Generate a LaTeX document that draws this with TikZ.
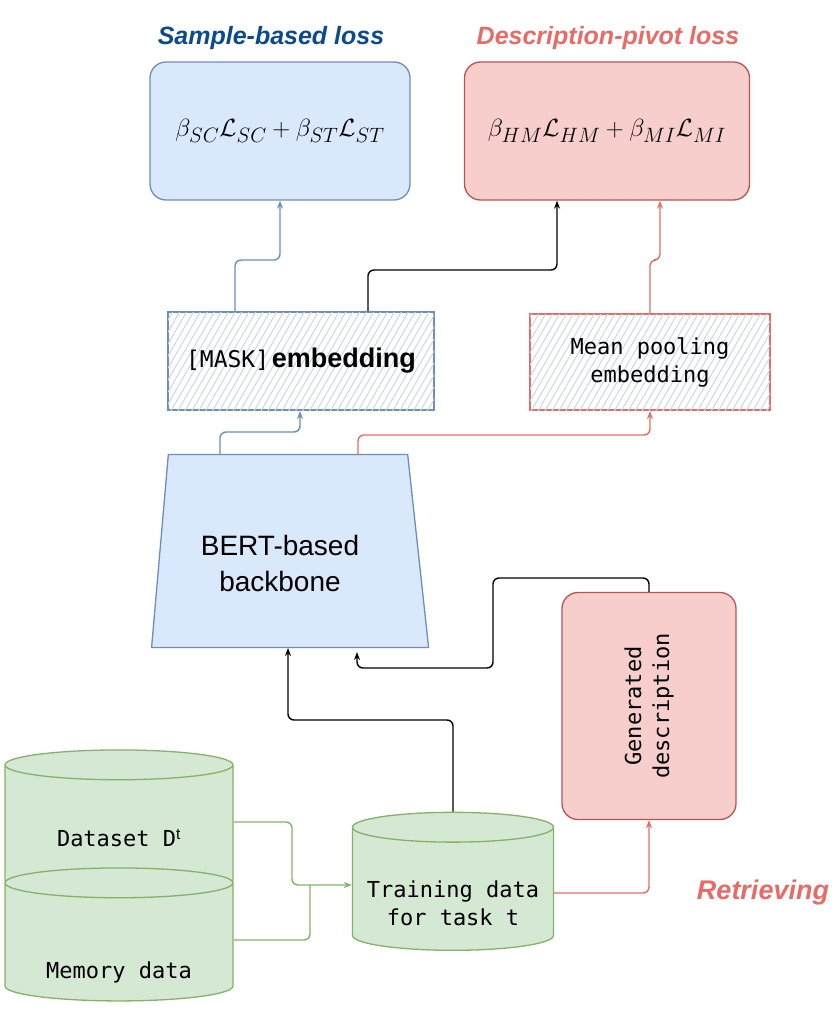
\documentclass[tikz,border=0pt]{standalone}
\usepackage{fontspec}
\setmainfont{Liberation Sans}
\newfontfamily\monof{DejaVu Sans Mono}
\usetikzlibrary{shapes.geometric,patterns.meta,arrows.meta}
\definecolor{bfill}{HTML}{DAE8FC}\definecolor{bline}{HTML}{6C8EBF}
\definecolor{rfill}{HTML}{F8CECC}\definecolor{rline}{HTML}{B85450}
\definecolor{gfill}{HTML}{D5E8D4}\definecolor{gline}{HTML}{82B366}
\definecolor{rtitle}{HTML}{EA6B66}\definecolor{btitle}{HTML}{0B4A8F}
\definecolor{redl}{HTML}{EA6B66}
\begin{document}
\begin{tikzpicture}[x=1pt,y=-1pt,
 tit/.style={font=\fontsize{25}{30}\selectfont\bfseries\itshape},
 bbox/.style={draw=bline,fill=bfill,rounded corners=16pt,line width=1.3pt},
 rbox/.style={draw=rline,fill=rfill,rounded corners=16pt,line width=1.3pt},
 hatch/.style={line width=2pt,fill=white,postaction={pattern={Lines[angle=60,distance=6pt,line width=1pt]},pattern color=bline!35}},
 cyl/.style={cylinder,shape border rotate=90,aspect=0.3,draw=gline,fill=gfill,line width=1.3pt,font=\monof\fontsize{22}{28}\selectfont},
 arr/.style={-{Stealth[length=8pt,width=6pt]},rounded corners=6pt,line width=1.4pt},
 mono/.style={font=\monof\fontsize{22}{28}\selectfont,align=center}]
\useasboundingbox (0,0) rectangle (835,1019);
\node[tit,text=btitle] (t1) at (271,38) {Sample-based loss};
\node[tit,text=rtitle] (t2) at (608,38) {Description-pivot loss};
\node[bbox,minimum width=260,minimum height=138] (L1) at (280,131) {\fontsize{29}{34}\selectfont$\beta_{SC}\mathcal{L}_{SC}+\beta_{ST}\mathcal{L}_{ST}$};
\node[rbox,minimum width=285,minimum height=138] (L2) at (607,131) {\fontsize{29}{34}\selectfont$\beta_{HM}\mathcal{L}_{HM}+\beta_{MI}\mathcal{L}_{MI}$};
\node[hatch,draw=bline,minimum width=266,minimum height=98] (M) at (301,361) {{\monof\fontsize{23}{28}\selectfont[MASK]} \fontsize{27}{32}\selectfont\bfseries embedding};
\node[hatch,draw=redl,minimum width=240,minimum height=96,mono] (P) at (650,362) {Mean pooling\\embedding};
\node[trapezium,trapezium stretches=true,trapezium left angle=86,trapezium right angle=85,draw=bline,fill=bfill,line width=1.3pt,minimum width=277,minimum height=193] (B) at (288,551) {};
\node[font=\fontsize{28}{36}\selectfont,align=center] (Bt) at (280,563) {BERT-based\\backbone};
\node[rbox,minimum width=174,minimum height=227] (G) at (649,706) {};
\node[mono,rotate=90] (Gt) at (G) {Generated\\description};
\node[cyl,minimum width=228,minimum height=145] (D) at (119,832) {\phantom{Dataset}};
\node[mono] (Dt) at (119,838) {Dataset D$^{\mathrm{t}}$};
\node[cyl,minimum width=228,minimum height=133] (Me) at (119,944) {\phantom{Dataset}};
\node[mono] (Mt) at (119,972) {Memory data};
\node[cyl,minimum width=201,minimum height=138] (T) at (453,891) {\phantom{Dataset}};
\node[mono] (Tt) at (453,903) {Training data\\for task t};
\node[tit,text=redl,font=\fontsize{27}{32}\selectfont\bfseries\itshape] (R) at (763,893) {Retrieving};
% connectors
\draw[arr,draw=bline] (M.north -| 235,0) |- (280,260) -- (L1.south);
\draw[arr] (M.north -| 368,0) |- (557,270) -- (L2.south -| 557,0);
\draw[arr,draw=redl] (P.north) |- (660,260) -- (L2.south -| 660,0);
\draw[arr,draw=bline] (220,455) |- (300,432) -- (M.south -| 300,0);
\draw[arr,draw=redl] (358,455) |- (650,435) -- (P.south);
\draw[arr] (T.north) |- (288,720) -- (288,648);
\draw[arr] (G.north) |- (493,578) |- (357,668) -- (357,652);
\draw[arr,draw=gline] (D.east |- 0,822) -| (292,885) -- (T.west |- 0,885);
\draw[rounded corners=6pt,line width=1.4pt,draw=gline] (Me.east |- 0,940) -| (310,885);
\draw[arr,draw=redl] (T.east |- 0,893) -| (G.south);
\end{tikzpicture}
\end{document}
